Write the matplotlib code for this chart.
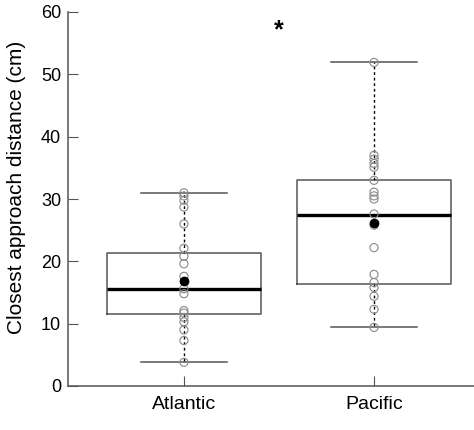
import numpy as np
import matplotlib
matplotlib.use("Agg")
import matplotlib.pyplot as plt

plt.rcParams['font.family'] = ['Liberation Sans', 'DejaVu Sans']

groups = ["Atlantic", "Pacific"]

atlantic = [31.0, 30.5, 29.8, 28.7, 26.0, 22.1, 20.8, 19.6, 17.6, 15.6,
            14.8, 12.1, 11.7, 11.0, 10.3, 9.0, 7.3, 3.8]
pacific = [51.9, 37.0, 36.4, 35.7, 35.1, 33.0, 31.1, 30.5, 30.0, 27.6,
           25.8, 22.2, 17.9, 16.6, 15.8, 14.4, 12.3, 9.4]

# box summaries as drawn
whis_lo = [3.8, 9.4]
q1 = [11.6, 16.4]
medians = [15.5, 27.5]
q3 = [21.3, 33.0]
whis_hi = [31.0, 51.9]
means = [16.9, 26.2]

fig = plt.figure(figsize=(4.74, 4.30), dpi=100)
ax = fig.add_axes([68 / 474, 44 / 430, 406 / 474, 374 / 430])

stats = []
for i in range(len(groups)):
    stats.append({"whislo": whis_lo[i], "q1": q1[i], "med": medians[i],
                  "q3": q3[i], "whishi": whis_hi[i], "label": groups[i]})

ax.bxp(stats, positions=[1, 2], widths=0.81, showfliers=False,
       boxprops=dict(color="#555555", lw=1.1),
       medianprops=dict(color="black", lw=2.4),
       whiskerprops=dict(color="black", lw=1.0, linestyle=(0, (2, 2))),
       capprops=dict(color="#555555", lw=1.1),
       capwidths=0.45)

for i, vals in enumerate([atlantic, pacific]):
    ax.scatter(np.full(len(vals), i + 1), vals, s=34, facecolors="none",
               edgecolors="#888888", linewidths=0.8, zorder=3)
ax.scatter([1, 2], means, s=36, color="black", zorder=4)

ax.text(1.5, 57, "*", ha="center", va="center", fontsize=18, fontweight="bold")

ax.set_xlim(0.39, 2.526)
ax.set_ylim(0, 60)
ax.set_yticks([0, 10, 20, 30, 40, 50, 60])
ax.set_xticks([1, 2])
ax.set_xticklabels(groups)
ax.set_ylabel("Closest approach distance (cm)", fontsize=15)
ax.yaxis.set_label_coords(-0.104, 0.53)
ax.tick_params(axis="y", labelsize=13, direction="in", length=7,
               color="#555555", pad=5)
ax.tick_params(axis="x", labelsize=14, direction="in", length=7,
               color="#555555", pad=7)
for s in ["top", "right"]:
    ax.spines[s].set_visible(False)
for s in ["left", "bottom"]:
    ax.spines[s].set_color("#555555")
    ax.spines[s].set_linewidth(1.1)

fig.savefig("out.png", dpi=100)
